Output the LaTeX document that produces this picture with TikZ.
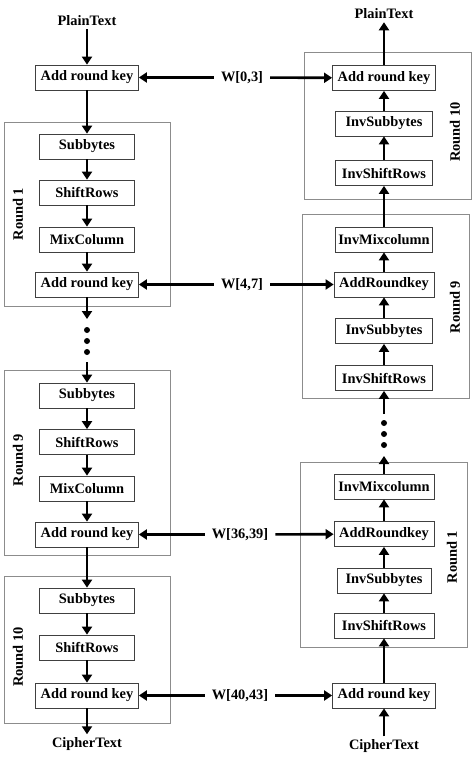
\documentclass[tikz,border=0pt]{standalone}
\usepackage{fontspec}
\setmainfont{Liberation Serif}
\usetikzlibrary{arrows.meta}
\begin{document}
\begin{tikzpicture}[x=1pt,y=-1pt,
  every node/.style={font=\fontsize{14.4}{16}\selectfont\bfseries},
  opbox/.style={draw=black!75,line width=0.8pt,minimum height=25pt,inner sep=1pt,minimum width=95pt},
  arkbox/.style={opbox,minimum width=103pt},
  invbox/.style={opbox,minimum width=97pt},
  container/.style={draw=black!45,line width=0.7pt},
  lbl/.style={inner sep=3pt},
  keylbl/.style={inner xsep=7pt,inner ysep=3pt},
  rlabel/.style={rotate=90},
  arr/.style={line width=2.6pt,-{Triangle[width=10pt,length=8pt]}},
  dotnode/.style={circle,fill=black,inner sep=0pt,minimum size=6pt}
]
\useasboundingbox (0,0) rectangle (474,761);
% containers
\draw[container] (4,122) rectangle (170,306);
\draw[container] (4,370) rectangle (170,555);
\draw[container] (4,576) rectangle (170,723);
\draw[container] (304,52) rectangle (471,199);
\draw[container] (302,214) rectangle (469,398);
\draw[container] (300,462) rectangle (467,647);
% round labels
\node[rlabel] (lr1) at (18,214) {Round 1};
\node[rlabel] (lr9) at (18,460) {Round 9};
\node[rlabel] (lr10) at (18,657) {Round 10};
\node[rlabel] (rr10) at (455,132) {Round 10};
\node[rlabel] (rr9) at (455,307) {Round 9};
\node[rlabel] (rr1) at (452,557) {Round 1};
% left column
\node[lbl] (pt1) at (87,21) {PlainText};
\node[arkbox] (ark0) at (87,77.5) {Add round key};
\node[opbox] (sub1) at (87,146.5) {Subbytes};
\node[opbox] (sh1) at (87,192.5) {ShiftRows};
\node[opbox] (mix1) at (87,239.5) {MixColumn};
\node[arkbox] (ark1) at (87,284.5) {Add round key};
\node[dotnode] (ld1) at (87,330) {};
\node[dotnode] (ld2) at (87,341) {};
\node[dotnode] (ld3) at (87,352) {};
\coordinate (lc1) at (87,319);
\coordinate (lc2) at (87,362);
\node[opbox] (sub9) at (87,395.5) {Subbytes};
\node[opbox] (sh9) at (87,442) {ShiftRows};
\node[opbox] (mix9) at (87,488.5) {MixColumn};
\node[arkbox] (ark9) at (87,534.5) {Add round key};
\node[opbox] (sub10) at (87,600.5) {Subbytes};
\node[opbox] (sh10) at (87,647.5) {ShiftRows};
\node[arkbox] (ark10) at (87,695.5) {Add round key};
\node[lbl] (ct1) at (87,744) {CipherText};
% right column
\node[lbl] (pt2) at (384,14) {PlainText};
\node[arkbox] (rark10) at (384,78) {Add round key};
\node[invbox] (rsub10) at (384,123.5) {InvSubbytes};
\node[invbox] (rsh10) at (384,173) {InvShiftRows};
\node[invbox] (rmix9) at (384,239.5) {InvMixcolumn};
\node[invbox,minimum width=100pt] (rark9) at (384,284.5) {AddRoundkey};
\node[invbox] (rsub9) at (384,331) {InvSubbytes};
\node[invbox] (rsh9) at (384,378) {InvShiftRows};
\node[dotnode] (rd1) at (384,423) {};
\node[dotnode] (rd2) at (384,434) {};
\node[dotnode] (rd3) at (384,445) {};
\coordinate (rc1) at (384,414);
\coordinate (rc2) at (384,456);
\node[invbox,minimum width=100pt] (rmix1) at (384,486.5) {InvMixcolumn};
\node[invbox,minimum width=100pt] (rark1) at (384,534) {AddRoundkey};
\node[invbox,minimum width=94pt] (rsub1) at (384,580.5) {InvSubbytes};
\node[invbox,minimum width=100pt] (rsh1) at (384,625.5) {InvShiftRows};
\node[arkbox] (rark0) at (384,695.5) {Add round key};
\node[lbl] (ct2) at (384,746) {CipherText};
% key labels
\node[keylbl] (w03) at (242,77.5) {W[0,3]};
\node[keylbl] (w47) at (242,284.5) {W[4,7]};
\node[keylbl] (w3639) at (240,534.5) {W[36,39]};
\node[keylbl] (w4043) at (240,695.5) {W[40,43]};
% left arrows
\draw[arr] (pt1) -- (ark0);
\draw[arr] (ark0) -- (sub1);
\draw[arr] (sub1) -- (sh1);
\draw[arr] (sh1) -- (mix1);
\draw[arr] (mix1) -- (ark1);
\draw[arr] (ark1) -- (lc1);
\draw[arr] (lc2) -- (sub9);
\draw[arr] (sub9) -- (sh9);
\draw[arr] (sh9) -- (mix9);
\draw[arr] (mix9) -- (ark9);
\draw[arr] (ark9) -- (sub10);
\draw[arr] (sub10) -- (sh10);
\draw[arr] (sh10) -- (ark10);
\draw[arr] (ark10) -- (ct1);
% right arrows
\draw[arr] (ct2) -- (rark0);
\draw[arr] (rark0) -- (rsh1);
\draw[arr] (rsh1) -- (rsub1);
\draw[arr] (rsub1) -- (rark1);
\draw[arr] (rark1) -- (rmix1);
\draw[arr] (rmix1) -- (rc2);
\draw[arr] (rc1) -- (rsh9);
\draw[arr] (rsh9) -- (rsub9);
\draw[arr] (rsub9) -- (rark9);
\draw[arr] (rark9) -- (rmix9);
\draw[arr] (rmix9) -- (rsh10);
\draw[arr] (rsh10) -- (rsub10);
\draw[arr] (rsub10) -- (rark10);
\draw[arr] (rark10) -- (pt2);
% key arrows
\draw[arr] (w03) -- (ark0);
\draw[arr] (w03) -- (rark10);
\draw[arr] (w47) -- (ark1);
\draw[arr] (w47) -- (rark9);
\draw[arr] (w3639) -- (ark9);
\draw[arr] (w3639) -- (rark1);
\draw[arr] (w4043) -- (ark10);
\draw[arr] (w4043) -- (rark0);
\end{tikzpicture}
\end{document}
